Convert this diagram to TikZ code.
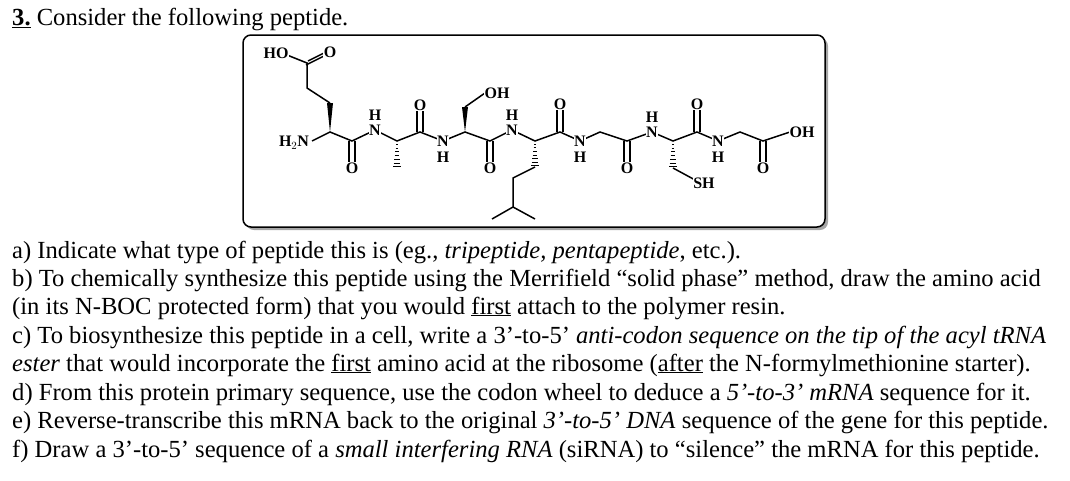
\documentclass[tikz,border=0pt]{standalone}
\usepackage{fontspec}
\setmainfont{Liberation Serif}
\newcommand{\myul}[1]{\underline{#1}}
\begin{document}
\begin{tikzpicture}[x=1pt,y=-1pt,
  bond/.style={line width=1.5pt},
  atom/.style={font=\fontsize{16}{16}\selectfont\bfseries,fill=white,inner sep=0.5pt},
  txt/.style={anchor=base west,inner sep=0,font=\fontsize{24.6}{28}\selectfont}]
\useasboundingbox (0,0) rectangle (1070,480);
% box with shadow
\fill[gray!70,rounded corners=8pt] (246,38) rectangle (828,230);
\draw[line width=1.5pt,fill=white,rounded corners=8pt] (243,35) rectangle (825,227);
% coordinates
\coordinate (c1) at (307,63); \coordinate (o1) at (327,53);
\coordinate (g1) at (307,88); \coordinate (g2) at (330,103);
\coordinate (a1) at (330,132); \coordinate (n0) at (312,141);
\coordinate (k1) at (352,141); \coordinate (k1o) at (352,168);
\coordinate (n1) at (375,130);
\coordinate (a2) at (397,141); \coordinate (m2) at (397,168);
\coordinate (k2) at (420,132); \coordinate (k2o) at (420,105);
\coordinate (n2) at (443,141);
\coordinate (a3) at (465,132); \coordinate (s3) at (465,107); \coordinate (oh3) at (485,93);
\coordinate (k3) at (490,141); \coordinate (k3o) at (490,168);
\coordinate (n3) at (512,130);
\coordinate (a4) at (535,141); \coordinate (b4) at (535,167);
\coordinate (l1) at (513,178); \coordinate (l2) at (513,207);
\coordinate (l3) at (492,219); \coordinate (l4) at (535,219);
\coordinate (k4) at (560,132); \coordinate (k4o) at (560,104);
\coordinate (n4) at (580,141); \coordinate (g5) at (600,132);
\coordinate (k5) at (627,141); \coordinate (k5o) at (627,168);
\coordinate (n5) at (652,132);
\coordinate (a6) at (673,141); \coordinate (b6) at (673,168); \coordinate (sh) at (697,181);
\coordinate (k6) at (697,132); \coordinate (k6o) at (697,104);
\coordinate (n6) at (718,141); \coordinate (g7) at (740,132);
\coordinate (k7) at (763,141); \coordinate (k7o) at (763,168);
\coordinate (oh7) at (790,132);
\coordinate (ho1) at (282,53);
% single bonds
\draw[bond] (ho1)--(c1)--(g1)--(g2);
\draw[bond] (n0)--(a1)--(k1)--(n1)--(a2)--(k2)--(n2)--(a3)--(k3)--(n3)--(a4)--(k4)--(n4)--(g5)--(k5)--(n5)--(a6)--(k6)--(n6)--(g7)--(k7)--(oh7);
\draw[bond] (s3)--(oh3);
\draw[bond] (b4)--(l1)--(l2)--(l3); \draw[bond] (l2)--(l4);
\draw[bond] (b6)--(sh);
% double bonds
\foreach \a/\b/\dx/\dy in {c1/o1/1/2, k1/k1o/3/0, k2/k2o/3/0, k3/k3o/3/0, k4/k4o/3/0, k5/k5o/3/0, k6/k6o/3/0, k7/k7o/3/0}{
  \draw[bond] ([shift={(-\dx,\dy)}]\a)--([shift={(-\dx,\dy)}]\b);
  \draw[bond] ([shift={(\dx,-\dy)}]\a)--([shift={(\dx,-\dy)}]\b);}
% wedges
\fill (a1)--([xshift=-3pt]g2)--([xshift=3pt]g2)--cycle;
\fill (a3)--([xshift=-3pt]s3)--([xshift=3pt]s3)--cycle;
% hashes
\foreach \p/\q in {a2/m2, a4/b4, a6/b6}{
  \foreach \t in {0.12,0.26,0.40,0.54,0.68,0.82,0.96}{
    \path (\p) -- (\q) coordinate[pos=\t] (hh);
    \draw[line width=1pt] ([xshift={-0.5-3.5*\t}]hh)--([xshift={0.5+3.5*\t}]hh);}}
% atom labels
\node[atom] (tHO) at (276,53) {HO};
\node[atom] (tO1) at (330,52) {O};
\node[atom] (tH2N) at (294,143) {H$_2$N};
\foreach \c in {k1o,k2o,k3o,k4o,k5o,k6o,k7o}{\node[atom] at (\c) {O};}
\foreach \c in {n1,n2,n3,n4,n5,n6}{\node[atom] at (\c) {N};}
\foreach \c/\s in {n1/15,n3/15,n5/15,n2/-16,n4/-16,n6/-16}{\node[atom,fill=none] at ([yshift=\s]\c) {H};}
\node[atom] (tOH3) at (497,93) {OH};
\node[atom] (tSH) at (704,183) {SH};
\node[atom] (tOH7) at (802,132) {OH};
% text
\node[txt] (t0) at (12,25) {\textbf{\myul{3.}} Consider the following peptide.};
\node[txt] (ta) at (12,258) {a) Indicate what type of peptide this is (eg., \textit{tripeptide, pentapeptide}, etc.).};
\node[txt] (tb) at (12,286) {b) To chemically synthesize this peptide using the Merrifield “solid phase” method, draw the amino acid};
\node[txt] (tb2) at (12,314) {(in its N-BOC protected form) that you would \myul{first} attach to the polymer resin.};
\node[txt] (tc) at (12,343) {c) To biosynthesize this peptide in a cell, write a 3'-to-5' \textit{anti-codon sequence on the tip of the acyl tRNA}};
\node[txt] (tc2) at (12,371) {\textit{ester} that would incorporate the \myul{first} amino acid at the ribosome (\myul{after} the N-formylmethionine starter).};
\node[txt] (td) at (12,400) {d) From this protein primary sequence, use the codon wheel to deduce a \textit{5'-to-3' mRNA} sequence for it.};
\node[txt] (te) at (12,428) {e) Reverse-transcribe this mRNA back to the original \textit{3’-to-5' DNA} sequence of the gene for this peptide.};
\node[txt] (tf) at (12,457) {f) Draw a 3’-to-5’ sequence of a \textit{small interfering RNA} (siRNA) to “silence” the mRNA for this peptide.};
\end{tikzpicture}
\end{document}
